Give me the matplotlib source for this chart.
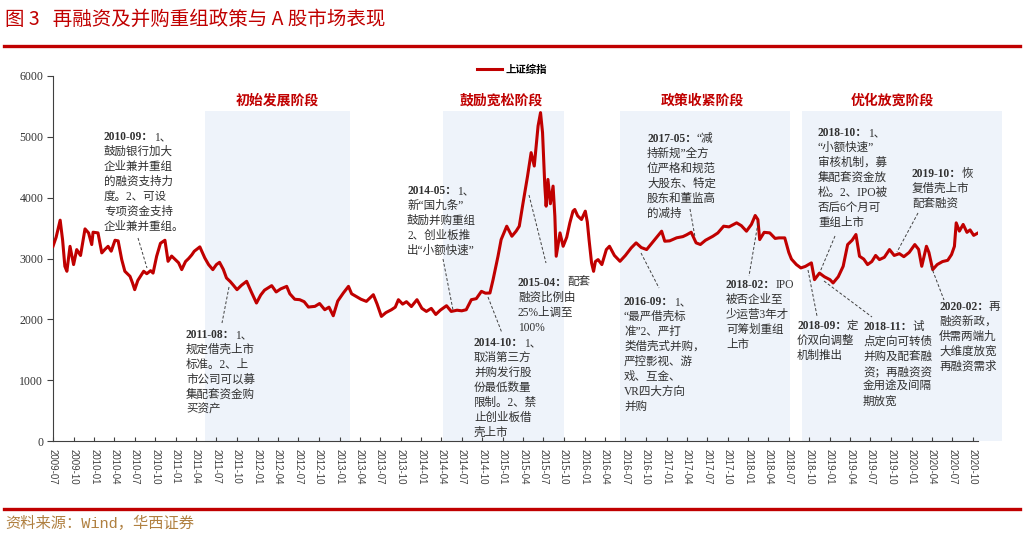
import pandas as pd
import matplotlib
matplotlib.use("Agg")
import matplotlib.pyplot as plt
from matplotlib.lines import Line2D

# 上证综指
dates = ["2009-07-01", "2009-07-15", "2009-08-02", "2009-08-13", "2009-08-23", "2009-09-01", "2009-09-15",
         "2009-10-01", "2009-10-15", "2009-11-01", "2009-11-21", "2009-12-07", "2009-12-21", "2009-12-27",
         "2010-01-18", "2010-02-04", "2010-02-18", "2010-03-04", "2010-03-18", "2010-04-04", "2010-04-18",
         "2010-05-04", "2010-05-18", "2010-06-10", "2010-06-21", "2010-07-01", "2010-07-15", "2010-08-10",
         "2010-08-24", "2010-09-10", "2010-09-21", "2010-10-07", "2010-10-24", "2010-11-13", "2010-11-27",
         "2010-12-13", "2010-12-27", "2011-01-13", "2011-01-27", "2011-02-13", "2011-02-27", "2011-03-13",
         "2011-03-24", "2011-04-18", "2011-05-10", "2011-05-27", "2011-06-15", "2011-07-01", "2011-07-15",
         "2011-08-01", "2011-08-15", "2011-09-01", "2011-09-15", "2011-10-01", "2011-10-21", "2011-11-13",
         "2011-12-04", "2011-12-27", "2012-01-15", "2012-02-01", "2012-02-18", "2012-03-04", "2012-03-24",
         "2012-04-13", "2012-05-10", "2012-05-24", "2012-06-15", "2012-07-07", "2012-07-27", "2012-08-15",
         "2012-09-13", "2012-10-04", "2012-10-27", "2012-11-15", "2012-12-04", "2012-12-24", "2013-01-18",
         "2013-02-10", "2013-02-24", "2013-03-15", "2013-04-07", "2013-05-01", "2013-06-01", "2013-06-18",
         "2013-07-07", "2013-07-27", "2013-08-21", "2013-09-07", "2013-09-21", "2013-10-10", "2013-10-27",
         "2013-11-18", "2013-12-13", "2014-01-04", "2014-01-24", "2014-02-15", "2014-03-07", "2014-03-27",
         "2014-04-24", "2014-05-15", "2014-06-10", "2014-07-01", "2014-07-21", "2014-08-13", "2014-09-04",
         "2014-09-27", "2014-10-15", "2014-11-04", "2014-11-18", "2014-12-10", "2014-12-24", "2015-01-18",
         "2015-02-10", "2015-03-01", "2015-03-15", "2015-04-01", "2015-04-21", "2015-05-07", "2015-05-21",
         "2015-06-07", "2015-06-18", "2015-06-27", "2015-07-07", "2015-07-13", "2015-07-21", "2015-08-01",
         "2015-08-13", "2015-08-21", "2015-08-27", "2015-09-13", "2015-09-27", "2015-10-13", "2015-10-27",
         "2015-11-10", "2015-11-18", "2015-12-01", "2015-12-18", "2016-01-04", "2016-01-13", "2016-01-21",
         "2016-02-01", "2016-02-10", "2016-02-18", "2016-03-01", "2016-03-18", "2016-04-07", "2016-04-21",
         "2016-05-13", "2016-06-07", "2016-07-01", "2016-07-27", "2016-08-18", "2016-09-10", "2016-10-04",
         "2016-11-07", "2016-12-10", "2016-12-24", "2017-01-15", "2017-02-15", "2017-03-15", "2017-04-01",
         "2017-04-21", "2017-05-13", "2017-06-01", "2017-06-24", "2017-07-27", "2017-08-18", "2017-09-13",
         "2017-10-07", "2017-11-10", "2017-12-01", "2017-12-24", "2018-01-15", "2018-02-01", "2018-02-13",
         "2018-02-21", "2018-03-13", "2018-04-07", "2018-05-01", "2018-05-18", "2018-06-13", "2018-07-01",
         "2018-07-13", "2018-08-04", "2018-08-24", "2018-09-13", "2018-10-10", "2018-10-24", "2018-11-15",
         "2018-12-07", "2019-01-01", "2019-01-15", "2019-02-07", "2019-03-01", "2019-03-21", "2019-04-10",
         "2019-04-27", "2019-05-13", "2019-06-01", "2019-06-18", "2019-07-07", "2019-07-24", "2019-08-10",
         "2019-09-01", "2019-09-24", "2019-10-15", "2019-11-07", "2019-11-27", "2019-12-21", "2020-01-15",
         "2020-02-01", "2020-02-15", "2020-03-07", "2020-03-18", "2020-04-04", "2020-04-24", "2020-05-18",
         "2020-06-10", "2020-06-27", "2020-07-10", "2020-07-18", "2020-08-01", "2020-08-18", "2020-09-04",
         "2020-09-18", "2020-10-04", "2020-10-24"]
values = [3201, 3350, 3630, 3300, 2872, 2790, 3200,
          2900, 3146, 3050, 3487, 3420, 3229, 3432,
          3421, 3092, 3150, 3200, 3120, 3300, 3290,
          2982, 2790, 2707, 2600, 2488, 2640, 2790,
          2750, 2800, 2760, 3037, 3250, 3300, 2954,
          3040, 2990, 2930, 2817, 2950, 3000, 3060,
          3119, 3191, 3010, 2900, 2817, 2900, 2937,
          2820, 2680, 2620, 2560, 2488, 2560, 2625,
          2450, 2268, 2400, 2480, 2520, 2554, 2450,
          2500, 2542, 2420, 2330, 2323, 2290, 2202,
          2213, 2260, 2158, 2200, 2059, 2300, 2433,
          2542, 2420, 2380, 2330, 2295, 2405, 2250,
          2048, 2110, 2158, 2200, 2323, 2250, 2290,
          2210, 2323, 2180, 2130, 2180, 2080, 2150,
          2224, 2130, 2150, 2140, 2158, 2323, 2340,
          2460, 2430, 2433, 2652, 3037, 3311, 3531,
          3366, 3450, 3531, 3916, 4354, 4740, 4520,
          5178, 5398, 5069, 4200, 3860, 4300, 3900,
          4190, 3695, 3037, 3421, 3201, 3350, 3586,
          3778, 3806, 3700, 3641, 3778, 3600, 3300,
          2928, 2789, 2950, 2982, 2900, 3147, 3201,
          3050, 2954, 3050, 3174, 3257, 3180, 3147,
          3300, 3449, 3284, 3290, 3340, 3360, 3390,
          3432, 3257, 3230, 3300, 3366, 3420, 3531,
          3520, 3586, 3540, 3449, 3560, 3707, 3640,
          3311, 3430, 3421, 3330, 3339, 3339, 3100,
          2990, 2900, 2845, 2870, 2928, 2652, 2760,
          2700, 2652, 2598, 2700, 2872, 3229, 3300,
          3394, 3037, 2990, 2900, 2950, 3050, 2982,
          3020, 3147, 3050, 3080, 3030, 3100, 3229,
          3150, 2872, 3201, 3100, 2817, 2900, 2950,
          2970, 3064, 3200, 3586, 3450, 3560, 3430,
          3470, 3380, 3421]

stage_names = ["初始发展阶段", "鼓励宽松阶段", "政策收紧阶段", "优化放宽阶段"]
stage_start = ["2011-05-11", "2014-04-09", "2016-06-08", "2018-08-30"]
stage_end = ["2013-02-17", "2015-10-02", "2018-07-07", "2021-02-07"]

# policy notes: date, rest of first line, following lines
note_dates = ["2010-09", "2011-08", "2014-05", "2015-04", "2014-10", "2017-05", "2016-09",
              "2018-02", "2018-10", "2019-10", "2018-09", "2018-11", "2020-02"]
note_first = ["1、", "1、", "1、", "配套", "1、", "“减", "1、", "IPO", "1、", "恢", "定", "试", "再"]
note_lines = [
    ["鼓励银行加大", "企业兼并重组", "的融资支持力", "度。2、可设", "专项资金支持", "企业兼并重组。"],
    ["规定借壳上市", "标准。2、上", "市公司可以募", "集配套资金购", "买资产"],
    ["新“国九条”", "鼓励并购重组", "2、创业板推", "出“小额快速”"],
    ["融资比例由", "25%上调至", "100%"],
    ["取消第三方", "并购发行股", "份最低数量", "限制。2、禁", "止创业板借", "壳上市"],
    ["持新规”全方", "位严格和规范", "大股东、特定", "股东和董监高", "的减持"],
    ["“最严借壳标", "准”2、严打", "类借壳式并购，", "严控影视、游", "戏、互金、", "VR四大方向", "并购"],
    ["被否企业至", "少运营3年才", "可筹划重组", "上市"],
    ["“小额快速”", "审核机制，募", "集配套资金放", "松。2、IPO被", "否后6个月可", "重组上市"],
    ["复借壳上市", "配套融资"],
    ["价双向调整", "机制推出"],
    ["点定向可转债", "并购及配套融", "资；再融资资", "金用途及间隔", "期放宽"],
    ["融资新政，", "供需两端九", "大维度放宽", "再融资需求"],
]
# layout in pixels: text anchor (left, first line centre) and leader line
note_pos = [(104, 137), (186, 335), (407, 191), (518, 283), (474, 343), (647, 139), (624, 302),
            (726, 285), (818, 133), (912, 174), (797, 326), (863, 327), (939, 307)]
note_leader = [(138, 238, 147, 268), (229, 287, 222, 323), (443, 259, 453, 310), (529, 195, 546, 263),
               (488, 297, 502, 333), (690, 209, 695, 237), (641, 253, 659, 288), (758, 223, 749, 276),
               (835, 236, 820, 272), (918, 213, 897, 252), (808, 270, 817, 316), (824, 281, 872, 317),
               (931, 266, 944, 300)]

W, H = 1025, 539
RED = "#C00000"
TXT = "#303030"
serif_cjk = ["Liberation Serif", "Noto Sans CJK SC"]


def fx(x):
    return x / W


def fy(y):
    return 1 - y / H


fig = plt.figure(figsize=(W / 100, H / 100), dpi=100)
x0 = pd.Timestamp("2009-07-01")
x1 = pd.Timestamp("2020-10-25")
ppd = 920 / (pd.Timestamp("2020-10-01") - x0).days
ax_w = (x1 - x0).days * ppd
ax = fig.add_axes([fx(53), fy(441), ax_w / W, (441 - 76) / H])

for s, e in zip(stage_start, stage_end):
    ax.axvspan(pd.Timestamp(s), pd.Timestamp(e), ymin=0, ymax=5420 / 6000,
               color="#EEF3FA", lw=0, zorder=0, clip_on=False)

ax.plot(pd.to_datetime(dates), values, color=RED, lw=2.2, label="上证综指", zorder=3)

ax.set_xlim(x0, x1)
ax.set_ylim(0, 6000)
ax.set_yticks(range(0, 6001, 1000))
qticks = pd.date_range("2009-07-01", "2020-10-01", freq="QS-JAN")
ax.set_xticks(qticks)
ax.set_xticklabels([d.strftime("%Y-%m") for d in qticks], rotation=270,
                   fontsize=7, family="Liberation Sans", color="#404040")
for lab in ax.get_yticklabels():
    lab.set_family("Liberation Serif")
    lab.set_fontsize(8.5)
    lab.set_color("#333333")
ax.tick_params(axis="x", direction="in", length=3, pad=6, color="#404040", width=0.8)
ax.tick_params(axis="y", direction="out", length=4, pad=3, color="#404040", width=0.8)
for sp in ["top", "right"]:
    ax.spines[sp].set_visible(False)
for sp in ["left", "bottom"]:
    ax.spines[sp].set_color("#404040")
    ax.spines[sp].set_linewidth(0.8)
ax.patch.set_alpha(0)

ax.legend(loc="center", bbox_to_anchor=(fx(512), fy(70)), bbox_transform=fig.transFigure,
          frameon=False, handlelength=2.4, handletextpad=0.3,
          prop={"family": "Noto Sans CJK SC", "size": 7.5, "weight": "bold"})

# stage titles
stage_cx = [277, 501, 702, 892]
for name, cx in zip(stage_names, stage_cx):
    fig.text(fx(cx), fy(101), name, ha="center", va="center", color=RED,
             fontsize=10, fontweight="bold", family="Noto Sans CJK SC")

# notes
r = fig.canvas.get_renderer()
for d, first, lines, (tx, ty), (la, lb, lc, ld) in zip(note_dates, note_first, note_lines, note_pos, note_leader):
    t = fig.text(fx(tx), fy(ty), d + "：", ha="left", va="center", fontsize=8.3,
                 fontweight="bold", family=serif_cjk, color=TXT)
    bb = t.get_window_extent(r)
    fig.text(bb.x1 / W, fy(ty), first, ha="left", va="center", fontsize=8.3,
             family=serif_cjk, color=TXT)
    for i, ln in enumerate(lines):
        fig.text(fx(tx), fy(ty + 15 * (i + 1)), ln, ha="left", va="center", fontsize=8.3,
                 family=serif_cjk, color=TXT)
    fig.add_artist(Line2D([fx(la), fx(lc)], [fy(lb), fy(ld)], transform=fig.transFigure,
                          color="#404040", lw=0.7, linestyle=(0, (3, 2))))

# title, rules and source
fig.text(fx(5), fy(19), "图 3   再融资及并购重组政策与 A 股市场表现", ha="left", va="center",
         color=RED, fontsize=14, family="Noto Sans CJK SC")
fig.add_artist(Line2D([fx(4), fx(1020)], [fy(46), fy(46)], transform=fig.transFigure, color=RED, lw=2.4))
fig.add_artist(Line2D([fx(4), fx(1020)], [fy(509), fy(509)], transform=fig.transFigure, color=RED, lw=2.4))
fig.text(fx(5), fy(523), "资料来源：Wind，华西证券", ha="left", va="center",
         color="#B08040", fontsize=11, family=["Liberation Mono", "Noto Sans CJK SC"])

fig.savefig("out.png", dpi=100)
